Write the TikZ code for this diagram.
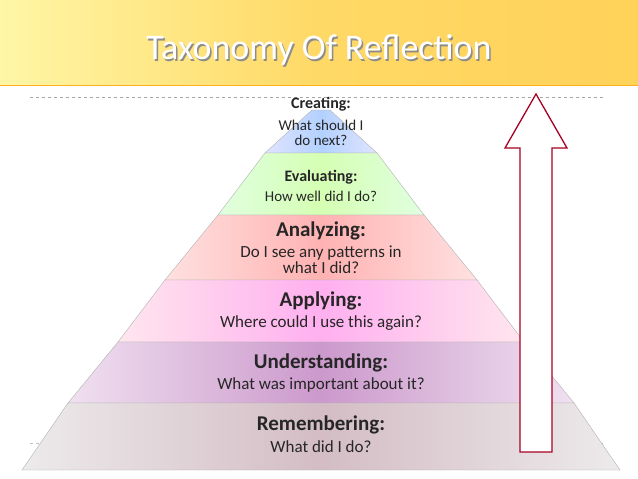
\documentclass[tikz,border=0pt]{standalone}
\usepackage{fontspec}
\setmainfont{Carlito}
\begin{document}
\begin{tikzpicture}[x=1pt,y=-1pt,
  hd/.style={font=\bfseries\fontsize{21}{23}\selectfont,text=black!85},
  hds/.style={font=\bfseries\fontsize{16}{18}\selectfont,text=black!85},
  bd/.style={font=\fontsize{17}{18}\selectfont,text=black!85,align=center},
  bds/.style={font=\fontsize{15}{16}\selectfont,text=black!85,align=center}]
\useasboundingbox (0,0) rectangle (638,479);
\fill[white] (0,0) rectangle (638,479);
% title band
\shade[left color=orange!20!yellow!35,right color=orange!55!yellow!65,middle color=orange!50!yellow!60] (0,0) rectangle (638,85);
\draw[orange!70!yellow!90,line width=1pt] (0,85) -- (638,85);
\node[text=black!45] (tsh) at (320.5,51.5) {\fontsize{36}{40}\selectfont Taxonomy Of Reflection};
\node (title) at (319,50) {\fontsize{36}{40}\selectfont\color{white}Taxonomy Of Reflection};
\draw[gray!70,dashed,line width=0.4pt] (30,97) -- (605,97);
\draw[gray!50,dashed,line width=0.4pt] (30,443) -- (605,443);
% layers
\shade[left color=cyan!10!blue!12,right color=cyan!10!blue!12,middle color=cyan!40!blue!30] (312,110) -- (330,110) -- (377,153) -- (265,153) -- cycle;
\draw[gray!60] (312,110) -- (330,110) -- (377,153) -- (265,153) -- cycle;
\shade[left color=green!12,right color=green!12,middle color=green!55!yellow!30] (265,153) -- (377,153) -- (424,215) -- (218,215) -- cycle;
\draw[gray!60] (265,153) -- (377,153) -- (424,215) -- (218,215) -- cycle;
\shade[left color=red!12,right color=red!12,middle color=red!40!pink!55] (218,215) -- (424,215) -- (477,280) -- (165,280) -- cycle;
\draw[gray!60] (218,215) -- (424,215) -- (477,280) -- (165,280) -- cycle;
\shade[left color=magenta!10!pink!30,right color=magenta!10!pink!30,middle color=magenta!50!pink!50] (165,280) -- (477,280) -- (524,342) -- (118,342) -- cycle;
\draw[gray!60] (165,280) -- (477,280) -- (524,342) -- (118,342) -- cycle;
\shade[left color=violet!12,right color=violet!12,middle color=violet!40] (118,342) -- (524,342) -- (574,403) -- (68,403) -- cycle;
\draw[gray!60] (118,342) -- (524,342) -- (574,403) -- (68,403) -- cycle;
\shade[left color=purple!8!gray!15,right color=purple!8!gray!15,middle color=purple!30!gray!40] (68,403) -- (574,403) -- (620,470) -- (22,470) -- cycle;
\draw[gray!60] (68,403) -- (574,403) -- (620,470) -- (22,470) -- cycle;
% texts
\node[hds] (c1) at (321,104) {Creating:};
\node[bds] (c2) at (321,133) {What should I\\[-1pt]do next?};
\node[hds] (e1) at (321,177) {Evaluating:};
\node[bds] (e2) at (321,196) {How well did\ I do?};
\node[hd] (a1) at (321,231) {Analyzing:};
\node[bd] (a2) at (321,260) {Do I see any patterns in\\[-2pt]what I did?};
\node[hd] (p1) at (321,301) {Applying:};
\node[bd] (p2) at (321,323) {Where could I use this again?};
\node[hd] (u1) at (321,363) {Understanding:};
\node[bd] (u2) at (321,385) {What was important about it?};
\node[hd] (r1) at (321,425) {Remembering:};
\node[bd] (r2) at (321,447) {What did I do?};
% arrow
\draw[fill=white,draw=purple!70!red!80!black,line width=1.3pt] (536,94) -- (567,148) -- (552,148) -- (552,452) -- (520,452) -- (520,148) -- (505,148) -- cycle;
\end{tikzpicture}
\end{document}
